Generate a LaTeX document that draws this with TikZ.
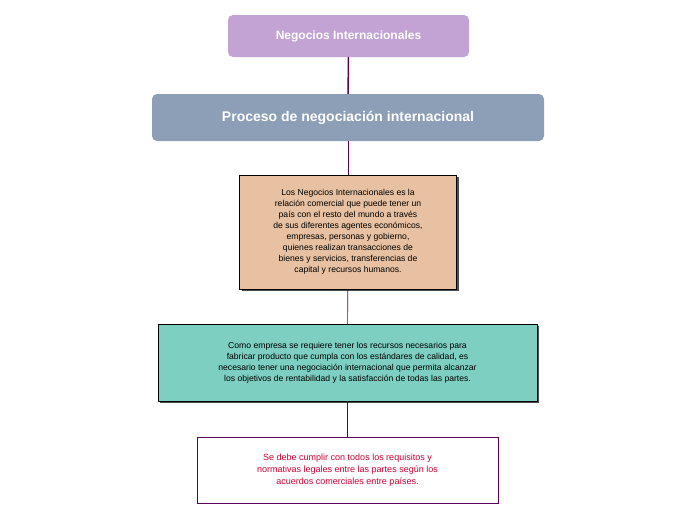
\documentclass[tikz,border=0pt]{standalone}
\usepackage{fontspec}
\setmainfont{Liberation Sans}
\usetikzlibrary{shadows}
\begin{document}
\begin{tikzpicture}[x=1pt,y=-1pt,
  conn/.style={draw=violet!70!black,line width=0.6pt},
  top/.style={fill=#1,rounded corners=5pt,text=white,font=\bfseries,align=center,inner sep=0pt},
  boxs/.style={draw=black,fill=#1,align=center,inner sep=0pt,font=\fontsize{8.6}{11}\selectfont,drop shadow={shadow xshift=2pt,shadow yshift=-2pt,fill=black!70,opacity=1}}]
\useasboundingbox (0,0) rectangle (696,520);
\definecolor{lila}{HTML}{C2A3D3}
\definecolor{grayb}{HTML}{8C9FB7}
\definecolor{tan}{HTML}{E7C1A2}
\definecolor{teal2}{HTML}{7DCFC1}
\definecolor{redt}{HTML}{CC0033}
\node[top=lila,minimum width=241,minimum height=42,font=\bfseries\fontsize{12}{14}\selectfont] (a) at (348.5,36) {Negocios Internacionales};
\node[top=grayb,minimum width=392,minimum height=47,font=\bfseries\fontsize{14}{17}\selectfont] (b) at (348,117.5) {Proceso de negociación internacional};
\node[boxs=tan,minimum width=217,minimum height=114] (c) at (348,232) {Los Negocios Internacionales es la\\relación comercial que puede tener un\\país con el resto del mundo a través\\de sus diferentes agentes económicos,\\empresas, personas y gobierno,\\quienes realizan transacciones de\\bienes y servicios, transferencias de\\capital y recursos humanos.};
\node[boxs=teal2,minimum width=379,minimum height=77] (d) at (347.5,362.5) {Como empresa se requiere tener los recursos necesarios para\\fabricar producto que cumpla con los estándares de calidad, es\\necesario tener una negociación internacional que permita alcanzar\\los objetivos de rentabilidad y la satisfacción de todas las partes.};
\node[draw=violet!70!black,fill=white,minimum width=301,minimum height=66,align=center,inner sep=0pt,text=redt,font=\fontsize{9}{12}\selectfont] (e) at (347.5,470) {Se debe cumplir con todos los requisitos y\\normativas legales entre las partes según los\\acuerdos comerciales entre países.};
\draw[conn,line width=1.5pt] (a) -- (b);
\draw[conn] (b) -- (c);
\draw[conn] (c) -- (d);
\draw[conn] (d) -- (e);
\end{tikzpicture}
\end{document}
